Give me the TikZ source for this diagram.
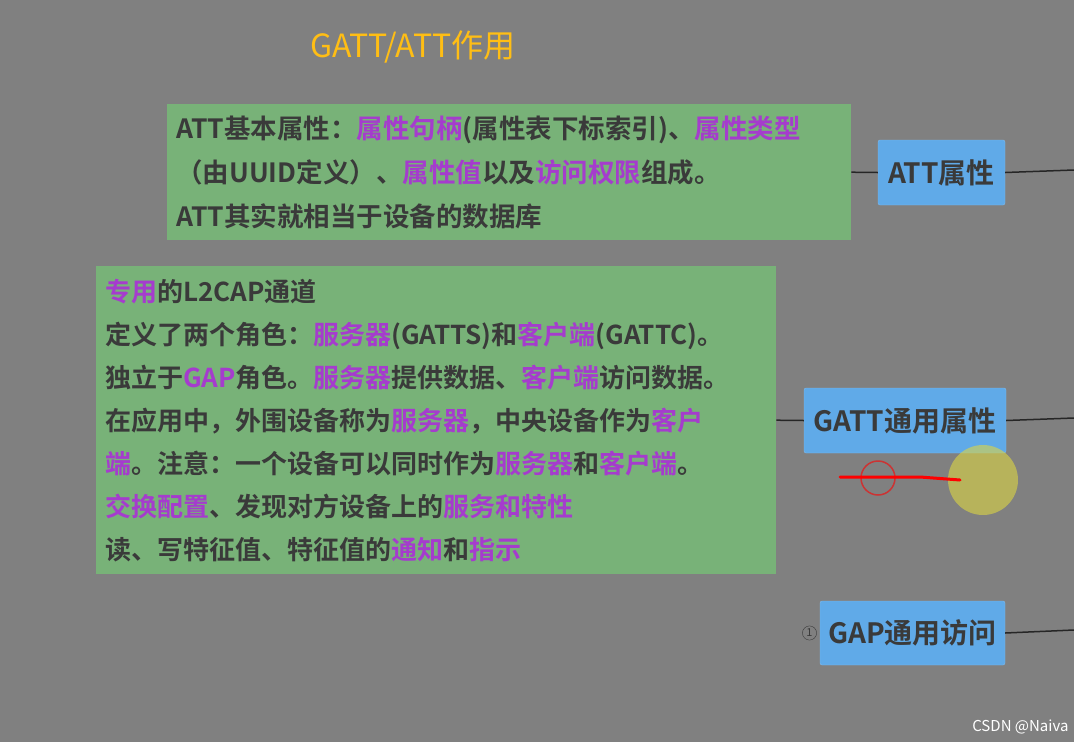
\documentclass[tikz,border=0pt]{standalone}
\usepackage{fontspec}
\setmainfont{Noto Sans CJK SC}[BoldFont={* Bold}]
\usetikzlibrary{positioning}
\definecolor{bggray}{RGB}{128,128,128}
\definecolor{notegreen}{RGB}{120,178,120}
\definecolor{topicblue}{RGB}{96,170,232}
\definecolor{txtgray}{RGB}{58,58,58}
\definecolor{hlpurple}{RGB}{165,60,205}
\definecolor{titleorange}{RGB}{255,190,20}
\newcommand{\hl}[1]{\textcolor{hlpurple}{#1}}

\begin{document}
\begin{tikzpicture}[x=1pt,y=-1pt,
    notebox/.style={fill=notegreen, anchor=north west, align=left, inner xsep=9pt,
      font=\bfseries\fontsize{26}{43}\selectfont, text=txtgray},
    topic/.style={fill=topicblue, rounded corners=2pt, draw=topicblue!80!white,
      font=\bfseries\fontsize{28}{32}\selectfont, text=txtgray, inner sep=0pt},
    link/.style={draw=black!85, line width=1.5pt}]
    \fill[bggray] (0,0) rectangle (1074,742);
    \useasboundingbox (0,0) rectangle (1074,742);

    \node[text=titleorange, font=\fontsize{32}{36}\selectfont] (title) at (413,47) {GATT/ATT作用};

    % ATT
    \node[notebox, minimum width=684pt, minimum height=136pt, text width=666pt,
      font=\bfseries\fontsize{26.5}{44}\selectfont] (attnote) at (167,104)
      {ATT基本属性：\hl{属性句柄}(属性表下标索引)、\hl{属性类型}\\
       （由UUID定义）、\hl{属性值}以及\hl{访问权限}组成。\\
       ATT其实就相当于设备的数据库};
    \node[topic, minimum width=127pt, minimum height=65pt] (att) at (941.5,172.5) {ATT属性};
    \coordinate (attend) at (1074,170);
    \draw[link] (attnote.east) -- (att.west);
    \draw[link] (att.east) -- (attend);

    % GATT
    \node[notebox, minimum width=680pt, minimum height=308pt, text width=662pt] (gattnote) at (96,266)
      {\hl{专用}的L2CAP通道\\
       定义了两个角色：\hl{服务器}(GATTS)和\hl{客户端}(GATTC)。\\
       独立于\hl{GAP}角色。\hl{服务器}提供数据、\hl{客户端}访问数据。\\
       在应用中，外围设备称为\hl{服务器}，中央设备作为\hl{客户}\\
       \hl{端}。注意：一个设备可以同时作为\hl{服务器}和\hl{客户端}。\\
       \hl{交换配置}、发现对方设备上的\hl{服务和特性}\\
       读、写特征值、特征值的\hl{通知}和\hl{指示}};
    \node[topic, minimum width=202pt, minimum height=65pt] (gatt) at (905,420.5) {GATT通用属性};
    \coordinate (gattend) at (1074,418);
    \draw[link] (gattnote.east) -- (gatt.west);
    \draw[link] (gatt.east) -- (gattend);

    % pen marks
    \fill[yellow!70!bggray, opacity=0.6] (983,480) circle (35pt);
    \draw[red!60!bggray, line width=1.5pt] (878,478) circle (17pt);
    \draw[red, line width=3pt, line cap=round] (840,477) -- (920,477) -- (960,480);

    % GAP
    \node[topic, minimum width=185pt, minimum height=64pt] (gap) at (912.5,633) {GAP通用访问};
    \node[draw=txtgray, circle, inner sep=1.5pt, font=\fontsize{11}{11}\selectfont, text=txtgray,
      left=3pt of gap] (gapmark) {1};
    \coordinate (gapend) at (1074,630);
    \draw[link] (gap.east) -- (gapend);

    \node[text=white, anchor=south east, font=\fontsize{15}{17}\selectfont] (mark) at (1072,738) {CSDN @Naiva};
\end{tikzpicture}
\end{document}
